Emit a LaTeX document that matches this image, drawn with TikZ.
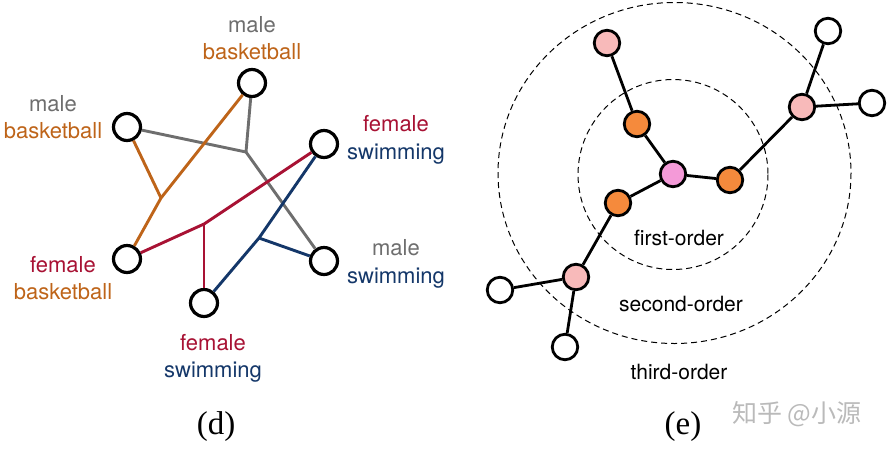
\documentclass[tikz,border=0pt]{standalone}
\usepackage{fontspec}
\setmainfont{TeX Gyre Heros}
\newfontfamily\serifcap{Liberation Serif}
\newfontfamily\cjk{Noto Sans CJK SC}
\definecolor{cgray}{RGB}{110,110,110}
\definecolor{corange}{RGB}{190,100,25}
\definecolor{cred}{RGB}{168,18,52}
\definecolor{cblue}{RGB}{20,55,105}
\definecolor{fcenter}{RGB}{244,154,216}
\definecolor{forange}{RGB}{245,138,60}
\definecolor{fpink}{RGB}{248,186,186}
\tikzset{
  lnode/.style={circle,draw=black,line width=3.2pt,fill=white,minimum size=27pt,inner sep=0pt},
  rnode/.style={circle,draw=black,line width=2.8pt,minimum size=25.5pt,inner sep=0pt},
  lab/.style={font=\fontsize{22}{24}\selectfont,inner sep=0pt,anchor=base},
  rlab/.style={font=\fontsize{21}{23}\selectfont,inner sep=0pt,anchor=base},
  ledge/.style={line width=2.9pt},
  redge/.style={line width=2.8pt,black},
  ring/.style={line width=1pt,dash pattern=on 6pt off 4pt},
  caption/.style={inner sep=0pt,font=\serifcap\fontsize{33}{36}\selectfont}
}
\begin{document}
\begin{tikzpicture}[x=1pt,y=-1pt]
\useasboundingbox (0,0) rectangle (891,451);
% ---------- panel (d) ----------
\coordinate (jg) at (246,152);
\coordinate (jo) at (161,198);
\coordinate (jr) at (204,224);
\coordinate (jb) at (259,238);
\node[lnode] (tmb) at (252,83) {};
\node[lnode] (lmb) at (127,127) {};
\node[lnode] (rfs) at (324,144) {};
\node[lnode] (lfb) at (127,259) {};
\node[lnode] (rms) at (324,261) {};
\node[lnode] (bfs) at (204,303) {};
\draw[ledge,cgray] (tmb) -- (jg);
\draw[ledge,cgray] (lmb) -- (jg);
\draw[ledge,cgray] (jg) -- (rms);
\draw[ledge,corange,line join=round] (tmb) -- (jo) -- (lfb);
\draw[ledge,corange] (lmb) -- (jo);
\draw[ledge,cred,line join=round] (rfs) -- (jr) -- (lfb);
\draw[ledge,cred] (jr) -- (bfs);
\draw[ledge,cblue,line join=round] (rfs) -- (jb) -- (bfs);
\draw[ledge,cblue] (jb) -- (rms);
\node[lab,text=cgray] (t1a) at (252,32) {male};
\node[lab,text=corange] (t1b) at (252,59) {basketball};
\node[lab,text=cgray] (t2a) at (53,111) {male};
\node[lab,text=corange] (t2b) at (53,138) {basketball};
\node[lab,text=cred] (t3a) at (396,131) {female};
\node[lab,text=cblue] (t3b) at (396,159) {swimming};
\node[lab,text=cgray] (t4a) at (396,255) {male};
\node[lab,text=cblue] (t4b) at (396,283) {swimming};
\node[lab,text=cred] (t5a) at (63,272) {female};
\node[lab,text=corange] (t5b) at (63,299) {basketball};
\node[lab,text=cred] (t6a) at (213,350) {female};
\node[lab,text=cblue] (t6b) at (213,377) {swimming};
\node[caption] (capd) at (216,427) {(d)};
% ---------- panel (e) ----------
\draw[ring] (673,174.5) circle (95);
\draw[ring] (674.5,173) ellipse (176.5 and 170.5);
\node[rnode,fill=fcenter] (c0) at (673,174) {};
\node[rnode,fill=forange] (o1) at (637,124) {};
\node[rnode,fill=forange] (o2) at (730,180) {};
\node[rnode,fill=forange] (o3) at (618,203) {};
\node[rnode,fill=fpink] (p1) at (607,43) {};
\node[rnode,fill=fpink] (p2) at (802,107) {};
\node[rnode,fill=fpink] (p3) at (576,277) {};
\node[rnode,fill=white] (w1) at (828,31) {};
\node[rnode,fill=white] (w2) at (872,103) {};
\node[rnode,fill=white] (w3) at (500,290) {};
\node[rnode,fill=white] (w4) at (565,347) {};
\draw[redge] (c0) -- (o1) -- (p1);
\draw[redge] (c0) -- (o2) -- (p2) -- (w1);
\draw[redge] (p2) -- (w2);
\draw[redge] (c0) -- (o3) -- (p3) -- (w3);
\draw[redge] (p3) -- (w4);
\node[rlab] (fo) at (679,245) {first-order};
\node[rlab] (so) at (681,311) {second-order};
\node[rlab] (to) at (679,379) {third-order};
\node[caption] (cape) at (683,427) {(e)};
\node[inner sep=0pt,font=\cjk\fontsize{25}{27}\selectfont,text=black!27] (wm) at (797,414) {知乎 @小源};
\end{tikzpicture}
\end{document}
